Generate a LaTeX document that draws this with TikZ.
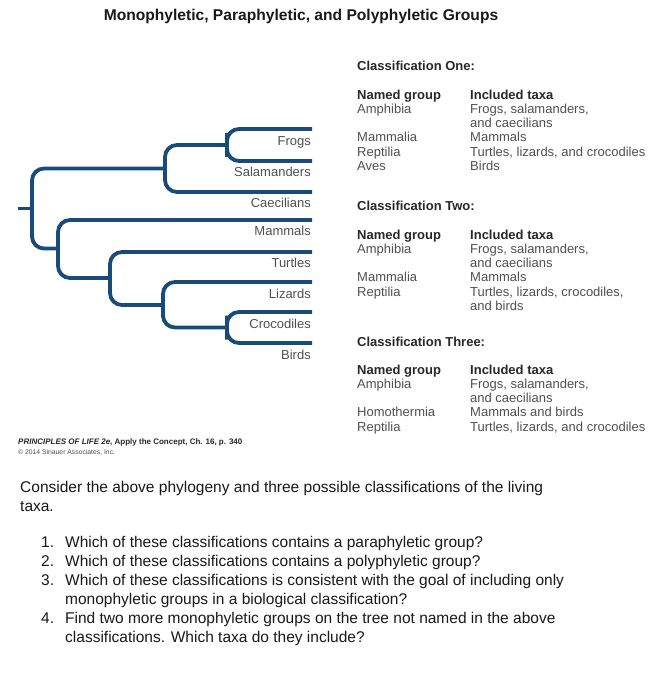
\documentclass[tikz,border=0pt]{standalone}
\usepackage{fontspec}
\setmainfont{Liberation Sans}
\definecolor{treeblue}{RGB}{24,74,122}
\definecolor{labgray}{RGB}{80,80,80}
\definecolor{headgray}{RGB}{40,40,40}
\definecolor{bodyblack}{RGB}{25,25,25}
\begin{document}
\begin{tikzpicture}[x=1pt,y=-1pt,
  branch/.style={draw=treeblue,line width=3.8pt,rounded corners=12pt},
  tiplab/.style={anchor=base east,inner sep=0pt,text=labgray,font=\fontsize{13}{15}\selectfont},
  clshead/.style={anchor=base west,inner sep=0pt,text=headgray,font=\fontsize{13}{15}\selectfont\bfseries},
  clstext/.style={anchor=base west,inner sep=0pt,text=labgray,font=\fontsize{13}{15}\selectfont},
  bodytext/.style={anchor=base west,inner sep=0pt,text=bodyblack,font=\fontsize{15.5}{19}\selectfont}]
\useasboundingbox (0,0) rectangle (658,700);
\fill[white] (0,0) rectangle (658,700);

% title
\node[anchor=base,inner sep=0pt,text=bodyblack,font=\fontsize{15.6}{18}\selectfont\bfseries] (title) at (301,21) {Monophyletic, Paraphyletic, and Polyphyletic Groups};

% tree tips
\coordinate (tfrog) at (312,129);
\coordinate (tsal) at (312,161);
\coordinate (tcae) at (312,192);
\coordinate (tmam) at (312,220);
\coordinate (ttur) at (312,252);
\coordinate (tliz) at (312,282);
\coordinate (tcro) at (312,312);
\coordinate (tbir) at (312,343);
% internal nodes
\coordinate (nfs) at (227,145);
\coordinate (namph) at (165,168.5);
\coordinate (nroot) at (32,208.5);
\coordinate (stub) at (18,208.5);
\coordinate (namn) at (58,248.5);
\coordinate (nrep) at (110,278);
\coordinate (nliz) at (163,305);
\coordinate (ncb) at (227,327.5);

\draw[branch] (tfrog) -| (nfs) |- (tsal);
\draw[branch] (nfs) -| (namph) |- (tcae);
\draw[branch] (namph) -| (nroot) |- (namn);
\draw[branch,rounded corners=0pt] (nroot) -- (stub);
\draw[branch] (tmam) -| (namn) |- (nrep);
\draw[branch] (ttur) -| (nrep) |- (nliz);
\draw[branch] (tliz) -| (nliz) |- (ncb);
\draw[branch] (tcro) -| (ncb) |- (tbir);

% tip labels
\node[tiplab] (lfrog) at (311,146) {Frogs};
\node[tiplab] (lsal) at (311,177) {Salamanders};
\node[tiplab] (lcae) at (311,208) {Caecilians};
\node[tiplab] (lmam) at (311,236) {Mammals};
\node[tiplab] (ltur) at (311,267) {Turtles};
\node[tiplab] (lliz) at (311,298) {Lizards};
\node[tiplab] (lcro) at (311,328) {Crocodiles};
\node[tiplab] (lbir) at (311,359) {Birds};

% Classification One
\node[clshead] (c1h) at (357,70.7) {Classification One:};
\node[clshead] (c1a) at (357,99.3) {Named group};
\node[clshead] (c1b) at (470,99.3) {Included taxa};
\node[clstext] (c1c) at (357,113.5) {Amphibia};
\node[clstext] (c1d) at (470,113.5) {Frogs, salamanders,};
\node[clstext] (c1e) at (470,127.7) {and caecilians};
\node[clstext] (c1f) at (357,141.9) {Mammalia};
\node[clstext] (c1g) at (470,141.9) {Mammals};
\node[clstext] (c1h2) at (357,156.1) {Reptilia};
\node[clstext] (c1i) at (470,156.1) {Turtles, lizards, and crocodiles};
\node[clstext] (c1j) at (357,170.3) {Aves};
\node[clstext] (c1k) at (470,170.3) {Birds};

% Classification Two
\node[clshead] (c2h) at (357,210.7) {Classification Two:};
\node[clshead] (c2a) at (357,239.3) {Named group};
\node[clshead] (c2b) at (470,239.3) {Included taxa};
\node[clstext] (c2c) at (357,253.5) {Amphibia};
\node[clstext] (c2d) at (470,253.5) {Frogs, salamanders,};
\node[clstext] (c2e) at (470,267.7) {and caecilians};
\node[clstext] (c2f) at (357,281.9) {Mammalia};
\node[clstext] (c2g) at (470,281.9) {Mammals};
\node[clstext] (c2h2) at (357,296.1) {Reptilia};
\node[clstext] (c2i) at (470,296.1) {Turtles, lizards, crocodiles,};
\node[clstext] (c2j) at (470,310.3) {and birds};

% Classification Three
\node[clshead] (c3h) at (357,346.2) {Classification Three:};
\node[clshead] (c3a) at (357,374.3) {Named group};
\node[clshead] (c3b) at (470,374.3) {Included taxa};
\node[clstext] (c3c) at (357,388.5) {Amphibia};
\node[clstext] (c3d) at (470,388.5) {Frogs, salamanders,};
\node[clstext] (c3e) at (470,402.7) {and caecilians};
\node[clstext] (c3f) at (357,416.9) {Homothermia};
\node[clstext] (c3g) at (470,416.9) {Mammals and birds};
\node[clstext] (c3h2) at (357,431.1) {Reptilia};
\node[clstext] (c3i) at (470,431.1) {Turtles, lizards, and crocodiles};

% credit
\node[anchor=base west,inner sep=0pt,text=headgray,font=\fontsize{8}{9}\selectfont\bfseries] (cred1) at (18,444) {\textit{PRINCIPLES OF LIFE 2e}, Apply the Concept, Ch. 16, p. 340};
\node[anchor=base west,inner sep=0pt,text=labgray,font=\fontsize{6.8}{8}\selectfont] (cred2) at (18,454) {\textcopyright\ 2014 Sinauer Associates, Inc.};

% body
\node[bodytext] (p1) at (20,492) {Consider the above phylogeny and three possible classifications of the living};
\node[bodytext] (p2) at (20,511) {taxa.};
\node[bodytext] (n1) at (41,547) {1.};
\node[bodytext] (q1) at (65,547) {Which of these classifications contains a paraphyletic group?};
\node[bodytext] (n2) at (41,566) {2.};
\node[bodytext] (q2) at (65,566) {Which of these classifications contains a polyphyletic group?};
\node[bodytext] (n3) at (41,585) {3.};
\node[bodytext] (q3) at (65,585) {Which of these classifications is consistent with the goal of including only};
\node[bodytext] (q3b) at (65,604) {monophyletic groups in a biological classification?};
\node[bodytext] (n4) at (41,623) {4.};
\node[bodytext] (q4) at (65,623) {Find two more monophyletic groups on the tree not named in the above};
\node[bodytext] (q4b) at (65,642) {classifications. Which taxa do they include?};
\end{tikzpicture}
\end{document}
